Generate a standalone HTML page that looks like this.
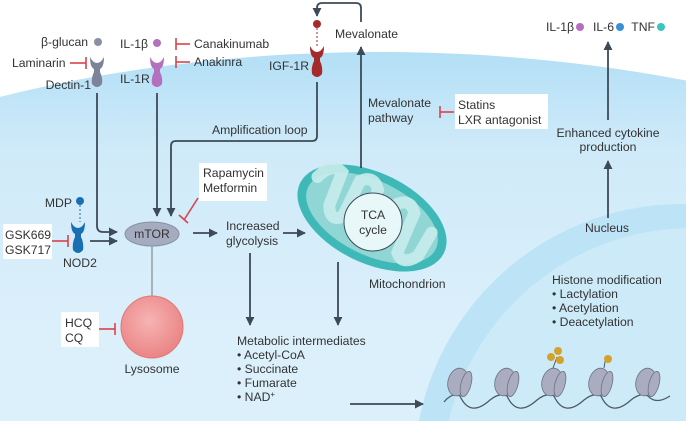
<!DOCTYPE html>
<html><head><meta charset="utf-8"><style>
html,body{margin:0;padding:0;background:#fff;width:686px;height:421px;overflow:hidden;}
svg{display:block;font-family:"Liberation Sans",sans-serif;overflow:hidden;}
text{fill:#333;font-size:12.2px;}
</style></head><body>
<svg width="686" height="421" viewBox="0 0 686 421" xmlns="http://www.w3.org/2000/svg">
<defs>
<radialGradient id="lys" cx="0.45" cy="0.4" r="0.6"><stop offset="0" stop-color="#f7b3b3"/><stop offset="1" stop-color="#ea8585"/></radialGradient>
<linearGradient id="cellg" x1="0" y1="0" x2="0" y2="1"><stop offset="0" stop-color="#b3dff6"/><stop offset="0.1" stop-color="#cfeaf9"/><stop offset="0.3" stop-color="#dcf0fb"/><stop offset="1" stop-color="#dcf0fb"/></linearGradient>
<marker id="ar" viewBox="0 0 10 10" refX="9" refY="5" markerWidth="5" markerHeight="5" orient="auto"><path d="M0 0L10 5L0 10z" fill="#3d4a57"/></marker>
<clipPath id="cl"><rect width="686" height="421"/></clipPath>
</defs>
<g clip-path="url(#cl)">
<rect width="686" height="421" fill="#fff"/>
<ellipse cx="380" cy="532" rx="900" ry="480" fill="url(#cellg)"/>
<circle cx="682" cy="472" r="268" fill="#bde3f6"/>
<circle cx="692" cy="478" r="250" fill="#cdeaf8"/>
</g>

<g transform="rotate(26 372 218)">
<ellipse cx="372" cy="218" rx="80" ry="45" fill="#3fb8b8"/>
<ellipse cx="372" cy="218" rx="71" ry="37" fill="#8fd6d4"/>
<path d="M305 205 Q312 185 325 190 L328 225 Q335 240 345 230 L345 190 Q355 178 365 190 L368 240 Q378 250 388 238 L388 195 Q398 183 408 195 L410 238 Q420 248 430 232 L432 205" fill="none" stroke="#c9ecec" stroke-width="12" stroke-linecap="round" opacity="0.9"/>
</g>
<circle cx="373" cy="222" r="29" fill="#e8f7f8" stroke="#3d4a57" stroke-width="1"/>
<text x="373" y="219" text-anchor="middle">TCA</text>
<text x="373" y="234" text-anchor="middle">cycle</text>

<path d="M90 57 Q90 67 94 69 L94 72 Q91 78 92 84 Q97 90 102 84 Q103 78 100 72 L100 69 Q104 67 104 57 Q101 63 97 63 Q93 63 90 57Z" fill="#7d8398"/>
<circle cx="98" cy="42" r="4" fill="#8a90a4"/>
<path d="M150 57 Q150 67 154 69 L154 72 Q151 78 152 84 Q157 90 162 84 Q163 78 160 72 L160 69 Q164 67 164 57 Q161 63 157 63 Q153 63 150 57Z" fill="#b46fbf"/>
<circle cx="157" cy="43" r="4" fill="#b46fbf"/>
<path d="M310 46 Q310 56 314 58 L314 61 Q311 67 312 74 Q317 80 322 74 Q323 67 320 61 L320 58 Q324 56 324 46 Q321 52 317 52 Q313 52 310 46Z" fill="#a52a2a"/>
<circle cx="317" cy="24" r="4" fill="#a52a2a"/>
<line x1="317" y1="28" x2="317" y2="46" stroke="#a52a2a" stroke-dasharray="2,2"/>
<path d="M71 222 Q71 232 75 234 L75 237 Q72 243 73 250 Q78 256 83 250 Q84 243 81 237 L81 234 Q85 232 85 222 Q82 228 78 228 Q74 228 71 222Z" fill="#1a6fb3"/>
<circle cx="80" cy="201" r="4" fill="#1a6fb3"/>
<line x1="80" y1="205" x2="80" y2="222" stroke="#1a6fb3" stroke-dasharray="2,2"/>

<g stroke="#3d4a57" stroke-width="1.8" fill="none">
<path d="M97 93 L97 226 Q97 232 103 232 L117 232" marker-end="url(#ar)"/>
<path d="M90 241 L117 241" marker-end="url(#ar)"/>
<path d="M157 93 L157 216" marker-end="url(#ar)"/>
<path d="M317 82 L317 136 Q317 141 312 141 L176 141 Q171 141 171 146 L171 216" marker-end="url(#ar)"/>
<path d="M193 233 L217 233" marker-end="url(#ar)"/>
<path d="M283 233 L305 233" marker-end="url(#ar)"/>
<path d="M250 253 L250 325" marker-end="url(#ar)"/>
<path d="M338 262 L338 325" marker-end="url(#ar)"/>
<path d="M350 404 L423 404" marker-end="url(#ar)"/>
<path d="M361 168 L361 47" marker-end="url(#ar)"/>
<path d="M361 22 L361 8 Q361 3 356 3 L322 3 Q317 3 317 8 L317 16" marker-end="url(#ar)"/>
<path d="M608 218 L608 161" marker-end="url(#ar)"/>
<path d="M608 120 L608 42" marker-end="url(#ar)"/>
</g>
<line x1="152" y1="246" x2="152" y2="297" stroke="#777" stroke-width="1"/>

<ellipse cx="152" cy="234" rx="27" ry="12" fill="#a5acbf" stroke="#8a90a4"/>
<text x="152" y="238" text-anchor="middle">mTOR</text>
<circle cx="152" cy="327" r="31" fill="url(#lys)" stroke="#e07777"/>
<text x="152" y="373" text-anchor="middle">Lysosome</text>

<g stroke="#d9434b" stroke-width="1.6">
<line x1="70" y1="63" x2="86" y2="63"/><line x1="86" y1="57" x2="86" y2="69"/>
<line x1="176" y1="44" x2="190" y2="44"/><line x1="176" y1="38" x2="176" y2="50"/>
<line x1="176" y1="62" x2="190" y2="62"/><line x1="176" y1="56" x2="176" y2="68"/>
<line x1="52" y1="241" x2="68" y2="241"/><line x1="68" y1="235" x2="68" y2="247"/>
<line x1="99" y1="329" x2="115" y2="329"/><line x1="115" y1="323" x2="115" y2="335"/>
<line x1="198" y1="198" x2="184" y2="220"/><line x1="179" y1="215" x2="188" y2="223"/>
<line x1="440" y1="112" x2="454" y2="112"/><line x1="440" y1="106" x2="440" y2="118"/>
</g>
<rect x="199" y="163" width="68" height="38" fill="#fff"/>
<text x="203" y="177">Rapamycin</text><text x="203" y="192">Metformin</text>
<rect x="3" y="224" width="49" height="35" fill="#fff"/>
<text x="5" y="239">GSK669</text><text x="5" y="254">GSK717</text>
<rect x="61" y="312" width="38" height="35" fill="#fff"/>
<text x="65" y="327">HCQ</text><text x="65" y="342">CQ</text>
<rect x="455" y="94" width="93" height="35" fill="#fff"/>
<text x="458" y="109">Statins</text><text x="458" y="124">LXR antagonist</text>

<text x="88" y="46" text-anchor="end">β-glucan</text>
<text x="120" y="48">IL-1β</text>
<text x="194" y="48">Canakinumab</text>
<text x="194" y="66">Anakinra</text>
<text x="12" y="67">Laminarin</text>
<text x="91" y="89" text-anchor="end">Dectin-1</text>
<text x="120" y="83">IL-1R</text>
<text x="309" y="70" text-anchor="end">IGF-1R</text>
<text x="335" y="38">Mevalonate</text>
<text x="212" y="134">Amplification loop</text>
<text x="72" y="207" text-anchor="end">MDP</text>
<text x="63" y="267">NOD2</text>
<text x="226" y="230">Increased</text>
<text x="226" y="245">glycolysis</text>
<text x="368" y="107">Mevalonate</text>
<text x="368" y="122">pathway</text>
<text x="369" y="288">Mitochondrion</text>
<text x="237" y="345">Metabolic intermediates</text>
<text x="237" y="359">• Acetyl-CoA</text>
<text x="237" y="373">• Succinate</text>
<text x="237" y="387">• Fumarate</text>
<text x="237" y="401">• NAD<tspan font-size="8" dy="-4">+</tspan></text>
<text x="552" y="284">Histone modification</text>
<text x="552" y="298">• Lactylation</text>
<text x="552" y="312">• Acetylation</text>
<text x="552" y="326">• Deacetylation</text>
<text x="608" y="137" text-anchor="middle">Enhanced cytokine</text>
<text x="608" y="151" text-anchor="middle">production</text>
<text x="607" y="232" text-anchor="middle">Nucleus</text>
<text x="574" y="31" text-anchor="end">IL-1β</text><circle cx="580" cy="27" r="4" fill="#b46fbf"/>
<text x="614" y="31" text-anchor="end">IL-6</text><circle cx="620" cy="27" r="4" fill="#3a8fd6"/>
<text x="655" y="31" text-anchor="end">TNF</text><circle cx="661" cy="27" r="4" fill="#3cc4c0"/>

<path d="M444 402 Q452 392 460 396 Q470 418 490 400 Q500 392 507 396 Q517 418 537 400 Q547 392 554 396 Q564 418 584 400 Q594 392 601 396 Q611 418 631 400 Q641 392 648 396 Q656 405 670 396" fill="none" stroke="#4d5a68" stroke-width="1.3"/>
<g fill="#a9adbf" stroke="#6b7183" stroke-width="0.8">
<ellipse cx="458" cy="382" rx="10" ry="14" transform="rotate(15 458 382)"/><ellipse cx="466" cy="384" rx="5" ry="13" transform="rotate(15 466 384)"/>
<ellipse cx="505" cy="382" rx="10" ry="14" transform="rotate(15 505 382)"/><ellipse cx="513" cy="384" rx="5" ry="13" transform="rotate(15 513 384)"/>
<ellipse cx="552" cy="382" rx="10" ry="14" transform="rotate(15 552 382)"/><ellipse cx="560" cy="384" rx="5" ry="13" transform="rotate(15 560 384)"/>
<ellipse cx="599" cy="382" rx="10" ry="14" transform="rotate(15 599 382)"/><ellipse cx="607" cy="384" rx="5" ry="13" transform="rotate(15 607 384)"/>
<ellipse cx="646" cy="382" rx="10" ry="14" transform="rotate(15 646 382)"/><ellipse cx="654" cy="384" rx="5" ry="13" transform="rotate(15 654 384)"/>
</g>
<line x1="553" y1="368" x2="557" y2="357" stroke="#4d5a68"/>
<line x1="604" y1="368" x2="606" y2="356" stroke="#4d5a68"/>
<g fill="#d4a22c"><circle cx="551" cy="357" r="4"/><circle cx="558" cy="351" r="4"/><circle cx="560" cy="360" r="4"/><circle cx="608" cy="359" r="4"/></g>
</svg>
</body></html>
